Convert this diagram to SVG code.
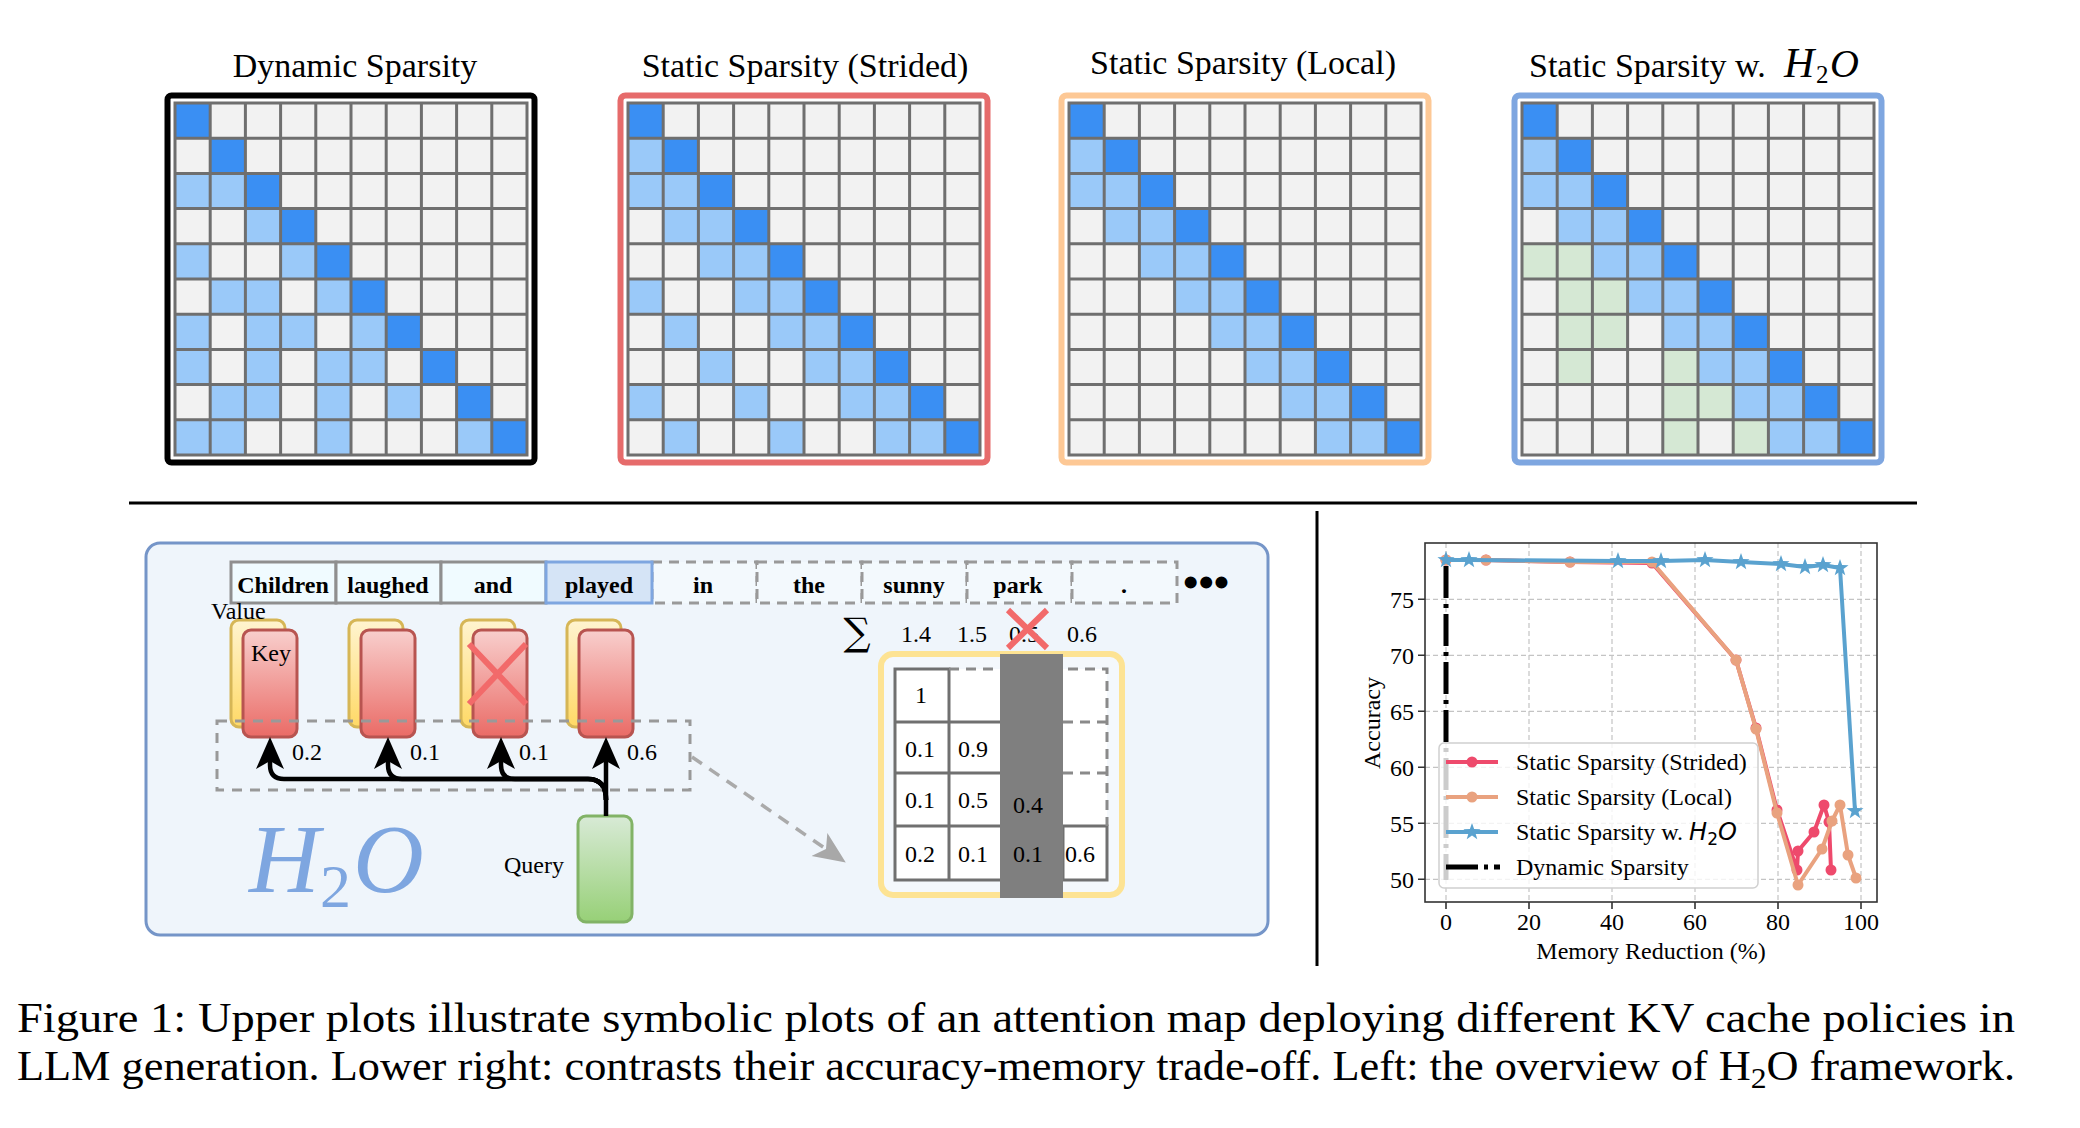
<svg xmlns="http://www.w3.org/2000/svg" xmlns:xlink="http://www.w3.org/1999/xlink" width="2080" height="1128" viewBox="0 0 2080 1128">
<style>
text{font-family:"Liberation Serif","Times New Roman",serif;fill:#000}
.title{font-size:34px;text-anchor:middle}
.e{fill:#f2f2f2}
.d{fill:#3a8ff3}
.l{fill:#9ac9f9}
.g{fill:#d5e8d4}
.gl{fill:none;stroke:#6f6f6f;stroke-width:3;stroke-linecap:square}
.bd{fill:#fff;stroke-width:6}
.tok{font-size:24px;font-weight:bold;text-anchor:middle}
.tb{fill:#f0fbff;stroke:#8f8f8f;stroke-width:3}
.td{fill:#f3f9fd;stroke:#999;stroke-width:3;stroke-dasharray:10 7}
.num{font-size:24px;text-anchor:middle}
.lbl{font-size:24px}
.arr{fill:none;stroke:#000;stroke-width:4.5;marker-end:url(#ah)}
.val{stroke:#d6b656;stroke-width:3;fill:url(#gy)}
.key{stroke:#b85450;stroke-width:3;fill:url(#gr)}
.xm{stroke:#f26a6a;stroke-width:6;stroke-linecap:butt}
.ms{stroke:#707070;stroke-width:3;fill:none;stroke-linecap:square}
.md{stroke:#8a8a8a;stroke-width:3;fill:none;stroke-dasharray:10 7}
.cg{stroke:#c4c4c4;stroke-width:1.2;stroke-dasharray:5 3;fill:none}
.tk{font-size:24px}
.ser{fill:none;stroke-width:4;stroke-linejoin:round}
.cap{font-size:42px}
</style>
<defs>
<rect id="c" width="35.2" height="35.2"/>
<path id="gl" class="gl" d="M0 0V352M35.2 0V352M70.4 0V352M105.6 0V352M140.8 0V352M176 0V352M211.2 0V352M246.4 0V352M281.6 0V352M316.8 0V352M352 0V352M0 0H352M0 35.2H352M0 70.4H352M0 105.6H352M0 140.8H352M0 176H352M0 211.2H352M0 246.4H352M0 281.6H352M0 316.8H352M0 352H352"/>
<g id="diag">
<use href="#c" class="d" x="0" y="0"/><use href="#c" class="d" x="35.2" y="35.2"/><use href="#c" class="d" x="70.4" y="70.4"/><use href="#c" class="d" x="105.6" y="105.6"/><use href="#c" class="d" x="140.8" y="140.8"/><use href="#c" class="d" x="176" y="176"/><use href="#c" class="d" x="211.2" y="211.2"/><use href="#c" class="d" x="246.4" y="246.4"/><use href="#c" class="d" x="281.6" y="281.6"/><use href="#c" class="d" x="316.8" y="316.8"/>
</g>
<g id="local">
<use href="#c" class="l" x="0" y="35.2"/><use href="#c" class="l" x="0" y="70.4"/><use href="#c" class="l" x="35.2" y="70.4"/><use href="#c" class="l" x="35.2" y="105.6"/><use href="#c" class="l" x="70.4" y="105.6"/><use href="#c" class="l" x="70.4" y="140.8"/><use href="#c" class="l" x="105.6" y="140.8"/><use href="#c" class="l" x="105.6" y="176"/><use href="#c" class="l" x="140.8" y="176"/><use href="#c" class="l" x="140.8" y="211.2"/><use href="#c" class="l" x="176" y="211.2"/><use href="#c" class="l" x="176" y="246.4"/><use href="#c" class="l" x="211.2" y="246.4"/><use href="#c" class="l" x="211.2" y="281.6"/><use href="#c" class="l" x="246.4" y="281.6"/><use href="#c" class="l" x="246.4" y="316.8"/><use href="#c" class="l" x="281.6" y="316.8"/>
</g>
<linearGradient id="gy" x1="0" y1="0" x2="0" y2="1"><stop offset="0" stop-color="#fff4d0"/><stop offset="1" stop-color="#ffd966"/></linearGradient>
<linearGradient id="gr" x1="0" y1="0" x2="0" y2="1"><stop offset="0" stop-color="#f8cfcd"/><stop offset="1" stop-color="#ea6b66"/></linearGradient>
<linearGradient id="gg" x1="0" y1="0" x2="0" y2="1"><stop offset="0" stop-color="#d8ead6"/><stop offset="1" stop-color="#97d077"/></linearGradient>
<marker id="ah" markerUnits="userSpaceOnUse" markerWidth="34" markerHeight="30" viewBox="0 0 34 30" refX="8" refY="15" orient="auto"><path d="M0,1 L32,15 L0,29 L8,15 Z" fill="#000"/></marker>
<marker id="ahg" markerUnits="userSpaceOnUse" markerWidth="34" markerHeight="30" viewBox="0 0 34 30" refX="8" refY="15" orient="auto"><path d="M0,1 L32,15 L0,29 L8,15 Z" fill="#a8a8a8"/></marker>
<marker id="mr" markerUnits="userSpaceOnUse" markerWidth="14" markerHeight="14" viewBox="-7 -7 14 14" refX="0" refY="0"><circle r="5.5" fill="#ee4a6c"/></marker>
<marker id="mo" markerUnits="userSpaceOnUse" markerWidth="14" markerHeight="14" viewBox="-7 -7 14 14" refX="0" refY="0"><circle r="5.5" fill="#e9a27f"/></marker>
<marker id="ms" markerUnits="userSpaceOnUse" markerWidth="22" markerHeight="22" viewBox="-11 -11 22 22" refX="0" refY="0"><path d="M0,-9 L2.12,-2.91 L8.56,-2.78 L3.42,1.11 L5.29,7.28 L0,3.6 L-5.29,7.28 L-3.42,1.11 L-8.56,-2.78 L-2.12,-2.91 Z" fill="#5aa2cf"/></marker>
</defs>
<rect width="2080" height="1128" fill="#fff"/>

<!-- Top panels -->
<g id="panel-dynamic">
<text class="title" x="355" y="77">Dynamic Sparsity</text>
<rect class="bd" x="167.5" y="95.5" width="367" height="367" rx="4" stroke="#000"/>
<g transform="translate(175,103)">
<rect class="e" width="352" height="352"/>
<use href="#diag"/>
<use href="#c" class="l" x="0" y="70.4"/><use href="#c" class="l" x="35.2" y="70.4"/><use href="#c" class="l" x="70.4" y="105.6"/><use href="#c" class="l" x="0" y="140.8"/><use href="#c" class="l" x="105.6" y="140.8"/><use href="#c" class="l" x="35.2" y="176"/><use href="#c" class="l" x="70.4" y="176"/><use href="#c" class="l" x="140.8" y="176"/><use href="#c" class="l" x="0" y="211.2"/><use href="#c" class="l" x="70.4" y="211.2"/><use href="#c" class="l" x="105.6" y="211.2"/><use href="#c" class="l" x="176" y="211.2"/><use href="#c" class="l" x="0" y="246.4"/><use href="#c" class="l" x="70.4" y="246.4"/><use href="#c" class="l" x="140.8" y="246.4"/><use href="#c" class="l" x="176" y="246.4"/><use href="#c" class="l" x="35.2" y="281.6"/><use href="#c" class="l" x="70.4" y="281.6"/><use href="#c" class="l" x="140.8" y="281.6"/><use href="#c" class="l" x="211.2" y="281.6"/><use href="#c" class="l" x="0" y="316.8"/><use href="#c" class="l" x="35.2" y="316.8"/><use href="#c" class="l" x="140.8" y="316.8"/><use href="#c" class="l" x="281.6" y="316.8"/>
<use href="#gl"/>
</g>
</g>

<g id="panel-strided">
<text class="title" x="805" y="77">Static Sparsity (Strided)</text>
<rect class="bd" x="620.5" y="95.5" width="367" height="367" rx="5" stroke="#e66b6b"/>
<g transform="translate(628,103)">
<rect class="e" width="352" height="352"/>
<use href="#diag"/>
<use href="#c" class="l" x="0" y="35.2"/><use href="#c" class="l" x="0" y="70.4"/><use href="#c" class="l" x="35.2" y="70.4"/><use href="#c" class="l" x="35.2" y="105.6"/><use href="#c" class="l" x="70.4" y="105.6"/><use href="#c" class="l" x="70.4" y="140.8"/><use href="#c" class="l" x="105.6" y="140.8"/><use href="#c" class="l" x="0" y="176"/><use href="#c" class="l" x="105.6" y="176"/><use href="#c" class="l" x="140.8" y="176"/><use href="#c" class="l" x="35.2" y="211.2"/><use href="#c" class="l" x="140.8" y="211.2"/><use href="#c" class="l" x="176" y="211.2"/><use href="#c" class="l" x="70.4" y="246.4"/><use href="#c" class="l" x="176" y="246.4"/><use href="#c" class="l" x="211.2" y="246.4"/><use href="#c" class="l" x="0" y="281.6"/><use href="#c" class="l" x="105.6" y="281.6"/><use href="#c" class="l" x="211.2" y="281.6"/><use href="#c" class="l" x="246.4" y="281.6"/><use href="#c" class="l" x="35.2" y="316.8"/><use href="#c" class="l" x="140.8" y="316.8"/><use href="#c" class="l" x="246.4" y="316.8"/><use href="#c" class="l" x="281.6" y="316.8"/>
<use href="#gl"/>
</g>
</g>

<g id="panel-local">
<text class="title" x="1243" y="74">Static Sparsity (Local)</text>
<rect class="bd" x="1061.5" y="95.5" width="367" height="367" rx="5" stroke="#fdc895"/>
<g transform="translate(1069,103)">
<rect class="e" width="352" height="352"/>
<use href="#diag"/>
<use href="#local"/>
<use href="#gl"/>
</g>
</g>

<g id="panel-h2o">
<text class="title" style="text-anchor:start"><tspan x="1529" y="77">Static Sparsity w.</tspan><tspan x="1784" y="77" font-style="italic" font-size="42">H</tspan><tspan x="1816" y="83" font-size="25">2</tspan><tspan x="1830" y="77" font-style="italic" font-size="40">O</tspan></text>
<rect class="bd" x="1514.5" y="95.5" width="367" height="367" rx="5" stroke="#7ea6e0"/>
<g transform="translate(1522,103)">
<rect class="e" width="352" height="352"/>
<use href="#diag"/>
<use href="#local"/>
<use href="#c" class="g" x="0" y="140.8"/><use href="#c" class="g" x="35.2" y="140.8"/><use href="#c" class="g" x="35.2" y="176"/><use href="#c" class="g" x="70.4" y="176"/><use href="#c" class="g" x="35.2" y="211.2"/><use href="#c" class="g" x="70.4" y="211.2"/><use href="#c" class="g" x="35.2" y="246.4"/><use href="#c" class="g" x="140.8" y="246.4"/><use href="#c" class="g" x="140.8" y="281.6"/><use href="#c" class="g" x="176" y="281.6"/><use href="#c" class="g" x="140.8" y="316.8"/><use href="#c" class="g" x="211.2" y="316.8"/>
<use href="#gl"/>
</g>
</g>

<g id="separators">
<line x1="129" y1="503" x2="1917" y2="503" stroke="#000" stroke-width="3"/>
<line x1="1317" y1="511" x2="1317" y2="966" stroke="#000" stroke-width="3"/>
</g>

<!-- Lower-left H2O overview -->
<g id="overview-panel">
<rect x="146" y="543" width="1122" height="392" rx="14" fill="#eff5fb" stroke="#7595c8" stroke-width="3"/>
</g>

<g id="tokens">
<rect class="td" x="652" y="562" width="105" height="41"/>
<rect class="td" x="757" y="562" width="105" height="41"/>
<rect class="td" x="862" y="562" width="105" height="41"/>
<rect class="td" x="967" y="562" width="105" height="41"/>
<rect class="td" x="1072" y="562" width="105" height="41"/>
<rect class="tb" x="231" y="562" width="105" height="41"/>
<rect class="tb" x="336" y="562" width="105" height="41"/>
<rect class="tb" x="441" y="562" width="105" height="41"/>
<rect x="546" y="562" width="106" height="41" fill="#d5e4f6" stroke="#7ea6e0" stroke-width="3"/>
<text class="tok" x="283" y="593">Children</text>
<text class="tok" x="388" y="593">laughed</text>
<text class="tok" x="493" y="593">and</text>
<text class="tok" x="599" y="593">played</text>
<text class="tok" x="703" y="593">in</text>
<text class="tok" x="809" y="593">the</text>
<text class="tok" x="914" y="593">sunny</text>
<text class="tok" x="1018" y="593">park</text>
<text class="tok" x="1124" y="593">.</text>
<text x="1183" y="597" style="font-size:44px;font-weight:bold">•••</text>
</g>

<g id="kv-cache">
<rect class="val" x="231" y="620" width="54" height="107" rx="8"/>
<rect class="key" x="243" y="630" width="54" height="107" rx="8"/>
<rect class="val" x="349" y="620" width="54" height="107" rx="8"/>
<rect class="key" x="361" y="630" width="54" height="107" rx="8"/>
<rect class="val" x="461" y="620" width="54" height="107" rx="8"/>
<rect class="key" x="473" y="630" width="54" height="107" rx="8"/>
<rect class="val" x="567" y="620" width="54" height="107" rx="8"/>
<rect class="key" x="579" y="630" width="54" height="107" rx="8"/>
<path class="xm" d="M469,644 L526,704 M526,644 L469,704"/>
<text class="lbl" x="211" y="619">Value</text>
<text class="lbl" x="251" y="661">Key</text>
</g>

<g id="query">
<rect x="578" y="816" width="54" height="106" rx="8" fill="url(#gg)" stroke="#82b366" stroke-width="3"/>
<text class="lbl" x="504" y="873">Query</text>
</g>

<g id="h2o-logo">
<text style="fill:#7ea6e0"><tspan x="249" y="892" font-style="italic" font-size="98">H</tspan><tspan x="320" y="907" font-size="62">2</tspan><tspan x="353" y="892" font-style="italic" font-size="98">O</tspan></text>
</g>

<g id="connectors">
<path class="arr" d="M606,816 L606,761"/>
<path class="arr" d="M606,800 Q606,779 588,779 L515,779 Q501,779 501,765 L501,761"/>
<path class="arr" d="M606,800 Q606,779 588,779 L402,779 Q388,779 388,765 L388,761"/>
<path class="arr" d="M606,800 Q606,779 588,779 L284,779 Q270,779 270,765 L270,761"/>
<rect x="217" y="721" width="473" height="69" fill="none" stroke="#999" stroke-width="3" stroke-dasharray="10 8"/>
<path d="M692,757 L826,849" fill="none" stroke="#aaa" stroke-width="3.5" stroke-dasharray="12 9" marker-end="url(#ahg)"/>
</g>

<g id="scores">
<text class="lbl" x="292" y="760">0.2</text>
<text class="lbl" x="410" y="760">0.1</text>
<text class="lbl" x="519" y="760">0.1</text>
<text class="lbl" x="627" y="760">0.6</text>
</g>

<g id="attention-matrix">
<rect x="881" y="654" width="241" height="241" rx="12" fill="#f4f8fc" stroke="#fde393" stroke-width="6"/>
<rect x="895" y="669" width="212" height="211" fill="#fff"/>
<path class="ms" d="M895,669 V880 H1107 M949,669 V880 M895,669 H949 M895,722 H1000 M895,773 H1000 M895,826 H1107 M1107,826 V880 M1063,826 V880"/>
<path class="md" d="M949,669 H1107 V826 M1063,722 H1107 M1063,773 H1107"/>
<rect x="1000" y="654" width="63" height="244" fill="#7f7f7f"/>
<text class="num" x="921" y="703">1</text>
<text class="num" x="920" y="757">0.1</text>
<text class="num" x="973" y="757">0.9</text>
<text class="num" x="920" y="808">0.1</text>
<text class="num" x="973" y="808">0.5</text>
<text class="num" x="1028" y="813">0.4</text>
<text class="num" x="920" y="862">0.2</text>
<text class="num" x="973" y="862">0.1</text>
<text class="num" x="1028" y="862">0.1</text>
<text class="num" x="1080" y="862">0.6</text>
<text x="857" y="645" style="font-family:'DejaVu Serif',serif;font-size:38px;text-anchor:middle">∑</text>
<text class="num" x="916" y="642">1.4</text>
<text class="num" x="972" y="642">1.5</text>
<text class="num" x="1024" y="642">0.5</text>
<text class="num" x="1082" y="642">0.6</text>
<path class="xm" d="M1008,610 L1047,648 M1047,610 L1008,648"/>
</g>

<!-- Chart -->
<g id="chart">
<path class="cg" d="M1446,543V902M1529,543V902M1612,543V902M1695,543V902M1778,543V902M1861,543V902M1425,879.3H1877M1425,823.3H1877M1425,767.3H1877M1425,711.3H1877M1425,655.3H1877M1425,599.3H1877"/>
<polyline class="ser" stroke="#ee4a6c" marker-start="url(#mr)" marker-mid="url(#mr)" marker-end="url(#mr)" points="1446,560 1486,560 1570,562 1652,563 1736,660 1756,728 1777,810 1797,870 1798,851 1814,832 1824,805 1829,822 1831,870"/>
<polyline class="ser" stroke="#e9a27f" marker-start="url(#mo)" marker-mid="url(#mo)" marker-end="url(#mo)" points="1446,560 1486,560 1570,562 1652,562 1736,660 1756,729 1777,813 1798,885 1822,849 1832,821 1840,805 1848,855 1856,878"/>
<polyline class="ser" stroke="#5aa2cf" marker-start="url(#ms)" marker-mid="url(#ms)" marker-end="url(#ms)" points="1446,560 1469,560 1618,561 1661,561 1705,560 1741,562 1781,564 1805,567 1823,565 1840,568 1855,811"/>
<path d="M1446,566 V880" stroke="#000" stroke-width="5" stroke-dasharray="32 6 4 6" fill="none"/>
<rect x="1425" y="543" width="452" height="359" fill="none" stroke="#333" stroke-width="1.6"/>
<path d="M1446,902v7M1529,902v7M1612,902v7M1695,902v7M1778,902v7M1861,902v7M1418,879.3h7M1418,823.3h7M1418,767.3h7M1418,711.3h7M1418,655.3h7M1418,599.3h7" stroke="#333" stroke-width="1.6"/>
<g class="tk" style="text-anchor:middle">
<text class="tk" x="1446" y="930">0</text>
<text class="tk" x="1529" y="930">20</text>
<text class="tk" x="1612" y="930">40</text>
<text class="tk" x="1695" y="930">60</text>
<text class="tk" x="1778" y="930">80</text>
<text class="tk" x="1861" y="930">100</text>
</g>
<g style="text-anchor:end">
<text class="tk" x="1414" y="888">50</text>
<text class="tk" x="1414" y="832">55</text>
<text class="tk" x="1414" y="776">60</text>
<text class="tk" x="1414" y="720">65</text>
<text class="tk" x="1414" y="664">70</text>
<text class="tk" x="1414" y="608">75</text>
</g>
<text class="tk" transform="translate(1380,723) rotate(-90)" style="text-anchor:middle">Accuracy</text>
<text class="tk" x="1651" y="959" style="text-anchor:middle">Memory Reduction (%)</text>
</g>

<g id="legend">
<rect x="1439" y="743" width="319" height="145" rx="5" fill="#fff" fill-opacity="0.8" stroke="#d0d0d0" stroke-width="1.5"/>
<polyline class="ser" stroke="#ee4a6c" marker-mid="url(#mr)" points="1446,762 1472,762 1498,762"/>
<polyline class="ser" stroke="#e9a27f" marker-mid="url(#mo)" points="1446,797 1472,797 1498,797"/>
<polyline class="ser" stroke="#5aa2cf" marker-mid="url(#ms)" points="1446,832 1472,832 1498,832"/>
<path d="M1446,867 H1500" stroke="#000" stroke-width="5" stroke-dasharray="32 6 4 6"/>
<text class="tk" x="1516" y="770">Static Sparsity (Strided)</text>
<text class="tk" x="1516" y="805">Static Sparsity (Local)</text>
<text class="tk" x="1516" y="840">Static Sparsity w. <tspan style="font-family:'DejaVu Sans',sans-serif;font-style:italic">H</tspan><tspan dy="5" style="font-family:'DejaVu Sans',sans-serif;font-size:17px">2</tspan><tspan dy="-5" style="font-family:'DejaVu Sans',sans-serif;font-style:italic">O</tspan></text>
<text class="tk" x="1516" y="875">Dynamic Sparsity</text>
</g>

<g id="caption">
<text class="cap" x="17" y="1032" textLength="1998" lengthAdjust="spacingAndGlyphs">Figure 1: Upper plots illustrate symbolic plots of an attention map deploying different KV cache policies in</text>
<text class="cap" x="17" y="1080" textLength="1998" lengthAdjust="spacingAndGlyphs">LLM generation. Lower right: contrasts their accuracy-memory trade-off. Left: the overview of H<tspan dy="8" style="font-size:30px">2</tspan><tspan dy="-8">O framework.</tspan></text>
</g>
</svg>
